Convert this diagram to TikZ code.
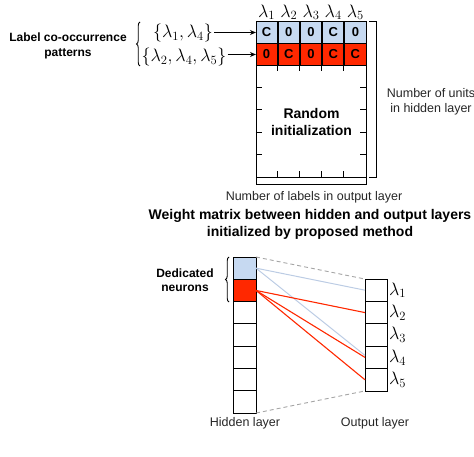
\RequirePackage{fix-cm}
\documentclass[tikz,border=0pt]{standalone}
\usepackage[no-math]{fontspec}
\setmainfont{Liberation Sans}
\usetikzlibrary{positioning,matrix,arrows.meta,decorations.pathreplacing}
\definecolor{codeblue}{RGB}{198,217,241}
\definecolor{codered}{RGB}{255,40,0}
\definecolor{linkblue}{RGB}{188,204,228}
\definecolor{guidegray}{RGB}{165,165,165}
\tikzset{
    weight cell/.style={
        rectangle,
        draw=black,
        line width=0.9pt,
        minimum width=21.3pt,
        minimum height=21.1pt,
        inner sep=0pt,
        outer sep=0pt,
        font=\bfseries\fontsize{13}{15}\selectfont
    },
    unit cell/.style={
        rectangle,
        draw=black,
        line width=0.9pt,
        minimum width=23pt,
        minimum height=22.3pt,
        inner sep=0pt,
        outer sep=0pt
    },
    plain label/.style={font=\fontsize{12.5}{15}\selectfont, text=black!85, align=center},
    bold label/.style={font=\bfseries\fontsize{12}{14.5}\selectfont, align=center},
    lambda label/.style={font=\fontsize{18}{21}\selectfont, inner sep=1pt},
    set label/.style={font=\fontsize{18}{21}\selectfont, inner sep=1pt},
    frame line/.style={line width=0.9pt},
    brace line/.style={line width=0.9pt, decorate, decoration={brace, amplitude=3.5pt}},
    guide line/.style={guidegray, line width=0.9pt, dash pattern=on 4pt off 3pt},
    blue link/.style={linkblue, line width=1pt},
    red link/.style={codered, line width=1.1pt}
}

\begin{document}
\begin{tikzpicture}[x=1pt, y=-1pt]
\useasboundingbox (0,0) rectangle (474,457);

% Weight matrix, the two dedicated rows
\matrix[matrix of nodes,
        anchor=north west,
        inner sep=0pt,
        outer sep=0pt,
        column sep=0pt,
        row sep=0pt,
        nodes={weight cell},
        row 1/.style={nodes={fill=codeblue}},
        row 2/.style={nodes={fill=codered}}] (wm) at (255.5,21.5) {
    C & 0 & 0 & C & 0 \\
    0 & C & 0 & C & C \\
};

% Randomly initialized part
\path (wm-2-5.south east) ++(0,112) coordinate (wb);
\path (wm-2-1.south west) ++(0,112) coordinate (wa);
\draw[frame line] (wm-2-1.south west) rectangle (wb);
\foreach \k in {1,...,4} {
    \draw[frame line] (wm-2-\k.south east) -- ++(0,6);
    \draw[frame line] (wm-2-\k.south east) ++(0,112) -- ++(0,-6);
}
\foreach \d in {22.4,44.8,67.2,89.6} {
    \draw[frame line] (wm-2-1.south west) ++(0,\d) -- ++(6,0);
    \draw[frame line] (wm-2-5.south east) ++(0,\d) -- ++(-6,0);
}
\node[bold label, font=\bfseries\fontsize{14}{17}\selectfont] (randinit) at (311.5,122) {Random\\initialization};

% Output labels above the columns
\foreach \k in {1,...,5}
    \node[lambda label, above=1pt of wm-1-\k] (top\k) {$\lambda_\k$};

% Co-occurrence patterns
\node[set label] (set1) at (183,33) {$\{\lambda_1, \lambda_4\}$};
\node[set label] (set2) at (184,57) {$\{\lambda_2, \lambda_4, \lambda_5\}$};
\draw[frame line, -{Stealth[length=6pt,width=5pt]}] (set1.east |- wm-1-1) -- (wm-1-1.west);
\draw[frame line, -{Stealth[length=6pt,width=5pt]}] (set2.east |- wm-2-1) -- (wm-2-1.west);
\draw[brace line] (140,66) -- (140,22);
\node[bold label] (patterns) at (68,46) {Label co-occurrence\\patterns};

% Size brackets
\draw[frame line] ([xshift=3pt]wm-1-5.north east) -- ([xshift=10pt]wm-1-5.north east)
    -- ([xshift=10pt]wb) -- ([xshift=3pt]wb);
\node[plain label] (units) at (431,102) {Number of units\\in hidden layer};
\draw[frame line] ([yshift=-1pt]wa) -- ++(0,6) -| ([yshift=-1pt]wb);
\node[plain label] (labels) at (314,197) {Number of labels in output layer};

\node[bold label, font=\bfseries\fontsize{14}{17}\selectfont] (title) at (310,224)
    {Weight matrix between hidden and output layers\\initialized by proposed method};

% Hidden and output layers
\foreach \i/\c in {1/codeblue,2/codered,3/white,4/white,5/white,6/white,7/white}
    \node[unit cell, fill=\c] (h\i) at (244.5,{257+22.29*(\i-0.5)}) {};
\foreach \i in {1,...,5} {
    \node[unit cell, minimum width=22pt] (o\i) at (376,{279+22.4*(\i-0.5)}) {};
    \node[lambda label, right=1pt of o\i] (lam\i) {$\lambda_\i$};
}

\draw[guide line] (h1.north east) -- (o1.north west);
\draw[guide line] (h7.south east) -- (o5.south west);
\draw[blue link] (h1.east) -- (o1.west);
\draw[blue link] (h1.east) -- ([yshift=2pt]o4.west);
\foreach \j in {2,4,5}
    \draw[red link] (h2.east) -- (o\j.west);

\draw[brace line] (229,302) -- (229,257);
\node[bold label] (dedicated) at (185,280) {Dedicated\\neurons};

\node[plain label] (hidden) at (245,423) {Hidden layer};
\node[plain label] (output) at (375,423) {Output layer};

\end{tikzpicture}
\end{document}
